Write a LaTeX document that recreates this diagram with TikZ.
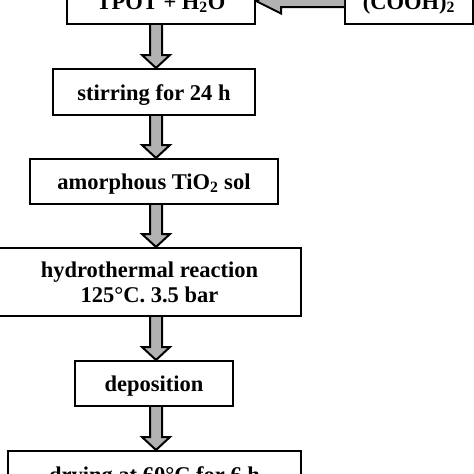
\documentclass[tikz,border=0pt]{standalone}
\usepackage{fontspec}
\setmainfont{Liberation Serif}
\usetikzlibrary{calc}
\newcommand{\bxtext}[1]{\raisebox{-3pt}[\height][\depth]{\begin{tabular}{@{}c@{}}#1\end{tabular}}}
\tikzset{
  box/.style={draw=black, line width=2pt, fill=white, inner sep=0pt,
    font=\fontsize{22.5}{25}\selectfont\bfseries},
  blockarrow/.style={draw=black, line width=2pt, fill=black!30, line join=miter}
}
\begin{document}
\begin{tikzpicture}[x=1pt, y=-1pt]
\useasboundingbox (0,0) rectangle (474,474);
\clip (0,0) rectangle (474,474);
\node[box, minimum width=188pt, minimum height=46pt] (tpot) at (161,1) {\bxtext{TPOT + H\textsubscript{2}O}};
\node[box, minimum width=128pt, minimum height=46pt] (cooh) at (409,1) {\bxtext{(COOH)\textsubscript{2}}};
\node[box, minimum width=202pt, minimum height=46pt] (stir) at (154,92) {\bxtext{stirring for 24 h}};
\node[box, minimum width=248pt, minimum height=45pt] (amor) at (154,181.5) {\bxtext{amorphous TiO\textsubscript{2} sol}};
\node[box, minimum width=303pt, minimum height=68pt] (hydro) at (149.5,282) {\bxtext{hydrothermal reaction\\125°C. 3.5 bar}};
\node[box, minimum width=158pt, minimum height=45pt] (depo) at (154,383.5) {\bxtext{deposition}};
\node[box, minimum width=293pt, minimum height=46pt] (dry) at (154.5,474) {\bxtext{drying at 60°C for 6 h}};
\coordinate (axis) at (156,0);
% vertical block arrows
\foreach \a/\b in {tpot/stir, stir/amor, amor/hydro, hydro/depo, depo/dry}{
  \filldraw[blockarrow] let \p1=(axis |- \a.south), \p2=(axis |- \b.north) in
    (\x1-6pt,\y1) -- (\x1-6pt,\y2+13pt) -- (\x1-14pt,\y2+13pt) -- (\x2,\y2)
    -- (\x1+14pt,\y2+13pt) -- (\x1+6pt,\y2+13pt) -- (\x1+6pt,\y1);
}
% horizontal block arrow
\filldraw[blockarrow] let \p1=(cooh.west), \p2=(tpot.east) in
  (\x1,\y1+6pt) -- (\x2+25pt,\y1+6pt) -- (\x2+25pt,\y1+12.5pt) -- (\x2,\y1)
  -- (\x2+25pt,\y1-12.5pt) -- (\x2+25pt,\y1-6pt) -- (\x1,\y1-6pt);
\end{tikzpicture}
\end{document}
